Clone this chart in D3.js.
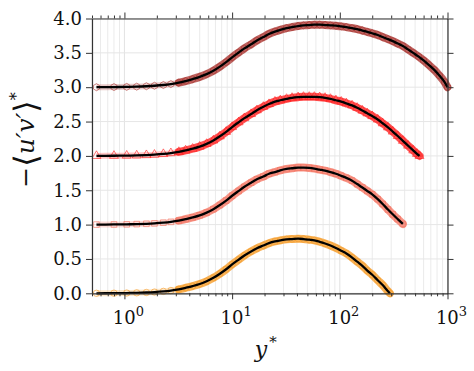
<!DOCTYPE html>
<html>
<head>
<meta charset="utf-8">
<script src="https://cdn.jsdelivr.net/npm/d3@7"></script>
<style>
  body { margin: 0; background: #fff; }
  svg { display: block; font-family: "DejaVu Serif", serif; }
</style>
</head>
<body>
<svg id="chart"></svg>
<script>
// wall-normal positions (y*) and shear stress for each case
const yPlusA = [0.55, 0.8, 1.05, 1.3, 1.6, 1.9, 2.3, 2.7, 3.2, 3.7, 4.3, 5, 5.8, 6.7, 7.7, 8.8, 10, 11.5, 13, 15, 17, 19.5, 22, 25, 28, 32, 36, 41, 46, 52, 58, 65, 73, 82, 92, 103, 115, 130, 145, 162, 180, 200, 225, 250, 280, 292];
const stressA = [0, 0.002, 0.004, 0.007, 0.012, 0.018, 0.028, 0.04, 0.058, 0.08, 0.105, 0.135, 0.175, 0.225, 0.285, 0.35, 0.42, 0.49, 0.55, 0.61, 0.655, 0.695, 0.73, 0.755, 0.77, 0.785, 0.79, 0.795, 0.79, 0.78, 0.77, 0.75, 0.725, 0.695, 0.66, 0.62, 0.58, 0.52, 0.46, 0.4, 0.33, 0.27, 0.19, 0.12, 0.03, 0];

const yPlusB = [0.55, 0.8, 1.05, 1.3, 1.6, 1.9, 2.3, 2.7, 3.2, 3.7, 4.3, 5, 5.8, 6.7, 7.7, 8.8, 10, 11.5, 13, 15, 17, 19.5, 22, 25, 28, 32, 36, 41, 46, 52, 58, 65, 73, 82, 92, 103, 115, 130, 145, 162, 180, 200, 225, 250, 280, 310, 345, 385];
const stressB = [0, 0.002, 0.004, 0.007, 0.012, 0.018, 0.028, 0.04, 0.058, 0.08, 0.105, 0.135, 0.175, 0.225, 0.285, 0.35, 0.42, 0.49, 0.55, 0.61, 0.66, 0.7, 0.74, 0.765, 0.79, 0.81, 0.82, 0.83, 0.83, 0.825, 0.815, 0.8, 0.785, 0.765, 0.74, 0.71, 0.68, 0.64, 0.59, 0.54, 0.49, 0.44, 0.37, 0.3, 0.22, 0.15, 0.08, 0.01];

const yPlusC = [0.55, 0.8, 1.05, 1.3, 1.6, 1.9, 2.3, 2.7, 3.2, 3.7, 4.3, 5, 5.8, 6.7, 7.7, 8.8, 10, 11.5, 13, 15, 17, 19.5, 22, 25, 28, 32, 36, 41, 46, 52, 58, 65, 73, 82, 92, 103, 115, 130, 145, 162, 180, 200, 225, 250, 280, 310, 345, 385, 430, 480, 520, 550];
const stressC = [0, 0.002, 0.004, 0.007, 0.012, 0.018, 0.028, 0.04, 0.058, 0.08, 0.105, 0.135, 0.175, 0.225, 0.285, 0.35, 0.42, 0.49, 0.55, 0.61, 0.665, 0.715, 0.755, 0.79, 0.81, 0.83, 0.845, 0.855, 0.86, 0.86, 0.86, 0.855, 0.845, 0.83, 0.81, 0.79, 0.765, 0.735, 0.7, 0.66, 0.62, 0.58, 0.53, 0.475, 0.415, 0.355, 0.29, 0.22, 0.15, 0.08, 0.03, 0];

const yPlusD = [0.55, 0.8, 1.05, 1.3, 1.6, 1.9, 2.3, 2.7, 3.2, 3.7, 4.3, 5, 5.8, 6.7, 7.7, 8.8, 10, 11.5, 13, 15, 17, 19.5, 22, 25, 28, 32, 36, 41, 46, 52, 58, 65, 73, 82, 92, 103, 115, 130, 145, 162, 180, 200, 225, 250, 280, 310, 345, 385, 430, 480, 540, 600, 670, 750, 840, 940, 1000];
const stressD = [0, 0.002, 0.005, 0.008, 0.014, 0.021, 0.032, 0.046, 0.066, 0.09, 0.118, 0.15, 0.19, 0.24, 0.3, 0.365, 0.435, 0.505, 0.565, 0.625, 0.68, 0.73, 0.775, 0.81, 0.835, 0.86, 0.875, 0.89, 0.9, 0.905, 0.91, 0.91, 0.905, 0.9, 0.895, 0.885, 0.875, 0.86, 0.845, 0.825, 0.805, 0.785, 0.76, 0.73, 0.7, 0.67, 0.635, 0.6, 0.55, 0.5, 0.445, 0.39, 0.325, 0.255, 0.17, 0.075, 0];

// each profile is shifted up by one unit
const offsets = [0, 1, 2, 3];
const colors = ["#f59a23", "#f4715f", "#ff1a1a", "#a8302c"];
const markers = ["circle", "square", "triangle", "hexagon"];

const xTicks = [1, 10, 100, 1000];
const yTicks = [0, 0.5, 1, 1.5, 2, 2.5, 3, 3.5, 4];

const svgWidth = 474;
const svgHeight = 371;
const margin = { top: 18.5, right: 26.5, bottom: 77.7, left: 92 };
const width = svgWidth - margin.left - margin.right;
const height = svgHeight - margin.top - margin.bottom;
const serif = "DejaVu Serif";

const svg = d3.select("#chart")
    .attr("width", svgWidth)
    .attr("height", svgHeight);

const g = svg.append("g")
    .attr("transform", `translate(${margin.left},${margin.top})`);

const xScale = d3.scaleLog().domain([0.5, 1000]).range([0, width]);
const yScale = d3.scaleLinear().domain([0, 4]).range([height, 0]);

// minor ticks in every decade
const minorTicks = [];
[0.1, 1, 10, 100].forEach(dec => {
    for (let k = 2; k <= 9; k++) {
        const v = dec * k;
        if (v >= 0.5 && v <= 1000) minorTicks.push(v);
    }
});

// grid
g.append("g").selectAll("line")
    .data(minorTicks)
    .enter().append("line")
    .attr("x1", d => xScale(d)).attr("x2", d => xScale(d))
    .attr("y1", 0).attr("y2", height)
    .attr("stroke", "#ebebeb").attr("stroke-width", 1);

g.append("g").selectAll("line")
    .data(xTicks)
    .enter().append("line")
    .attr("x1", d => xScale(d)).attr("x2", d => xScale(d))
    .attr("y1", 0).attr("y2", height)
    .attr("stroke", "#e2e2e2").attr("stroke-width", 1);

g.append("g").selectAll("line")
    .data(yTicks)
    .enter().append("line")
    .attr("x1", 0).attr("x2", width)
    .attr("y1", d => yScale(d)).attr("y2", d => yScale(d))
    .attr("stroke", "#e6e6e6").attr("stroke-width", 1);

// hexagon marker
const hexagon = {
    draw(context, size) {
        const r = Math.sqrt(size / 2.6);
        for (let i = 0; i < 6; i++) {
            const a = Math.PI / 6 + i * Math.PI / 3;
            const px = r * Math.cos(a), py = r * Math.sin(a);
            if (i === 0) context.moveTo(px, py); else context.lineTo(px, py);
        }
        context.closePath();
    }
};
const symbolTypes = {
    circle: d3.symbolCircle,
    square: d3.symbolSquare,
    triangle: d3.symbolTriangle,
    hexagon: hexagon
};

const series = [
    { x: yPlusA, y: stressA },
    { x: yPlusB, y: stressB },
    { x: yPlusC, y: stressC },
    { x: yPlusD, y: stressD }
];

const line = d3.line()
    .x(d => xScale(d[0]))
    .y(d => yScale(d[1]))
    .curve(d3.curveMonotoneX);

const plot = g.append("g");

series.forEach((s, i) => {
    const pts = s.x.map((xv, j) => [xv, s.y[j] + offsets[i]]);

    // dense marker band (markers overlap heavily away from the wall)
    plot.append("path")
        .datum(pts.filter(d => d[0] >= 3))
        .attr("d", line)
        .attr("fill", "none")
        .attr("stroke", colors[i])
        .attr("stroke-opacity", 0.75)
        .attr("stroke-width", 8)
        .attr("stroke-linecap", "round");

    plot.append("path")
        .datum(pts.filter(d => d[0] <= 4))
        .attr("d", line)
        .attr("fill", "none")
        .attr("stroke", colors[i])
        .attr("stroke-opacity", 0.25)
        .attr("stroke-width", 6);

    const sym = d3.symbol().type(symbolTypes[markers[i]])
        .size(markers[i] === "triangle" ? 34 : 32);

    plot.append("g").selectAll("path")
        .data(pts)
        .enter().append("path")
        .attr("d", sym)
        .attr("transform", d => `translate(${xScale(d[0])},${yScale(d[1])})`)
        .attr("fill", "none")
        .attr("stroke", colors[i])
        .attr("stroke-opacity", 0.6)
        .attr("stroke-width", 1);
});

series.forEach((s, i) => {
    const pts = s.x.map((xv, j) => [xv, s.y[j] + offsets[i]]);
    plot.append("path")
        .datum(pts)
        .attr("d", line)
        .attr("fill", "none")
        .attr("stroke", "#000")
        .attr("stroke-width", 2.3);
});

// axes
const axisColor = "#333";

g.append("g")
    .attr("transform", `translate(0,${height})`)
    .call(d3.axisBottom(xScale).tickValues(xTicks).tickFormat("").tickSize(6).tickSizeOuter(0));
g.append("g")
    .attr("transform", `translate(0,${height})`)
    .call(d3.axisBottom(xScale).tickValues(minorTicks).tickFormat("").tickSize(3).tickSizeOuter(0))
    .select(".domain").remove();

g.append("g")
    .call(d3.axisTop(xScale).tickValues(xTicks).tickFormat("").tickSize(6).tickSizeOuter(0));
g.append("g")
    .call(d3.axisTop(xScale).tickValues(minorTicks).tickFormat("").tickSize(3).tickSizeOuter(0))
    .select(".domain").remove();

g.append("g")
    .call(d3.axisLeft(yScale).tickValues(yTicks).tickFormat(d3.format(".1f")).tickSize(6).tickSizeOuter(0))
    .attr("font-family", serif)
    .selectAll("text")
    .attr("font-family", serif)
    .attr("font-size", 18)
    .attr("fill", "#111")
    .attr("x", -10);

g.append("g")
    .attr("transform", `translate(${width},0)`)
    .call(d3.axisRight(yScale).tickValues(yTicks).tickFormat("").tickSize(6).tickSizeOuter(0));

g.selectAll(".domain").attr("stroke", axisColor).attr("stroke-width", 1.2);
g.selectAll(".tick line").attr("stroke", axisColor);

// x tick labels as powers of ten
const xLabels = g.append("g");
xTicks.forEach(t => {
    const txt = xLabels.append("text")
        .attr("x", xScale(t) + 4)
        .attr("y", height + 31)
        .attr("text-anchor", "middle")
        .attr("font-family", serif)
        .attr("font-size", 18)
        .attr("fill", "#111");
    txt.append("tspan").text("10");
    txt.append("tspan")
        .attr("dy", -8)
        .attr("font-size", 13)
        .text(Math.round(Math.log10(t)));
});

// axis labels
g.append("text")
    .attr("x", width / 2 - 4)
    .attr("y", height + 64)
    .attr("text-anchor", "middle")
    .attr("font-family", serif)
    .attr("font-size", 22)
    .attr("font-style", "italic")
    .attr("fill", "#111")
    .html('y<tspan dx="2" dy="-10" font-size="15" font-style="normal">*</tspan>');

g.append("text")
    .attr("transform", `translate(${-58},${height / 2 - 16}) rotate(-90)`)
    .attr("text-anchor", "middle")
    .attr("font-family", serif)
    .attr("font-size", 25)
    .attr("fill", "#111")
    .html('\u2212<tspan font-size="32" dy="3">\u27E8</tspan><tspan font-style="italic" dy="-3">u\u2032v\u2032</tspan><tspan font-size="32" dy="3">\u27E9</tspan><tspan dy="-15" font-size="16">*</tspan>');
</script>
</body>
</html>
